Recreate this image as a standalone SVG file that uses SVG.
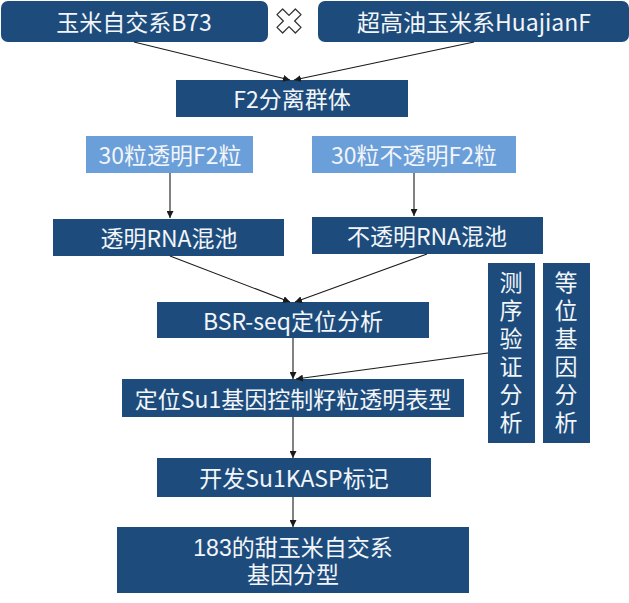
<svg xmlns="http://www.w3.org/2000/svg" width="629" height="603" viewBox="0 0 629 603">
<defs>
<marker id="ah" viewBox="0 0 10 10" refX="10" refY="5" markerWidth="7" markerHeight="7" orient="auto" markerUnits="userSpaceOnUse">
<path d="M0,0 L10,5 L0,10 z" fill="#1a1a1a"/>
</marker>
<style>
.dark{fill:#1d4c7c;}
.light{fill:#6a9fd9;}
.t{font-family:"Noto Sans CJK SC","Noto Sans",sans-serif;font-size:23px;fill:#f2f5f9;text-anchor:middle;dominant-baseline:central;}
.v{font-family:"Liberation Sans","Noto Sans CJK SC",sans-serif;font-size:23px;fill:#f2f5f9;text-anchor:middle;dominant-baseline:central;}
.c{stroke:#1a1a1a;stroke-width:1.1;fill:none;marker-end:url(#ah);}
</style>
</defs>
<rect width="629" height="603" fill="#ffffff"/>
<g id="n-b73"><rect class="dark" x="1" y="1" width="267" height="41" rx="7"/><text class="t" x="134" y="21">玉米自交系B73</text></g>
<g id="cross"><polygon points="-4,-13 4,-13 4,-4 13,-4 13,4 4,4 4,13 -4,13 -4,4 -13,4 -13,-4 -4,-4" transform="translate(289,21) rotate(45)" fill="#ffffff" stroke="#333333" stroke-width="1.3" stroke-linejoin="round"/></g>
<g id="n-huajian"><rect class="dark" x="318" y="1" width="311" height="41" rx="7"/><text class="t" x="474" y="21">超高油玉米系HuajianF</text></g>
<g id="n-f2"><rect class="dark" x="176" y="80" width="232" height="37"/><text class="t" x="292" y="98">F2分离群体</text></g>
<g id="n-clear30"><rect class="light" x="86" y="136" width="167" height="37"/><text class="t" x="170" y="154">30粒透明F2粒</text></g>
<g id="n-opaque30"><rect class="light" x="312" y="136" width="204" height="37"/><text class="t" x="414" y="154">30粒不透明F2粒</text></g>
<g id="n-clearpool"><rect class="dark" x="53" y="219" width="231" height="37"/><text class="t" x="169" y="237">透明RNA混池</text></g>
<g id="n-opaquepool"><rect class="dark" x="312" y="217" width="231" height="37"/><text class="t" x="427" y="235">不透明RNA混池</text></g>
<g id="n-bsr"><rect class="dark" x="157" y="302" width="272" height="36"/><text class="t" x="293" y="320">BSR-seq定位分析</text></g>
<g id="n-seqverify"><rect class="dark" x="488" y="263" width="47" height="180"/>
<text class="v" x="511" y="283">测</text><text class="v" x="511" y="311">序</text><text class="v" x="511" y="339">验</text><text class="v" x="511" y="367">证</text><text class="v" x="511" y="395">分</text><text class="v" x="511" y="423">析</text></g>
<g id="n-allele"><rect class="dark" x="543" y="263" width="47" height="180"/>
<text class="v" x="566" y="283">等</text><text class="v" x="566" y="311">位</text><text class="v" x="566" y="339">基</text><text class="v" x="566" y="367">因</text><text class="v" x="566" y="395">分</text><text class="v" x="566" y="423">析</text></g>
<g id="n-su1"><rect class="dark" x="122" y="379" width="342" height="38"/><text class="t" x="293" y="398">定位Su1基因控制籽粒透明表型</text></g>
<g id="n-kasp"><rect class="dark" x="157" y="458" width="274" height="39"/><text class="t" x="294" y="477">开发Su1KASP标记</text></g>
<g id="n-geno"><rect class="dark" x="117" y="527" width="352" height="66"/><text class="v" x="293" y="548">183的甜玉米自交系</text><text class="v" x="293" y="575">基因分型</text></g>
<g id="connectors">
<line class="c" x1="134" y1="42" x2="290" y2="80"/>
<line class="c" x1="474" y1="42" x2="294" y2="80"/>
<line class="c" x1="170" y1="173" x2="170" y2="218"/>
<line class="c" x1="414" y1="173" x2="414" y2="216"/>
<line class="c" x1="170" y1="256" x2="290" y2="302"/>
<line class="c" x1="427" y1="254" x2="295" y2="302"/>
<line class="c" x1="293" y1="338" x2="293" y2="379"/>
<line class="c" x1="488" y1="353" x2="296" y2="379"/>
<line class="c" x1="293" y1="417" x2="293" y2="458"/>
<line class="c" x1="293" y1="497" x2="293" y2="527"/>
</g>
</svg>
